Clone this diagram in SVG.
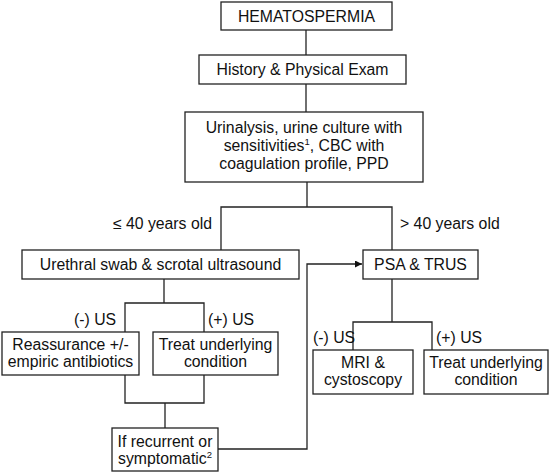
<svg xmlns="http://www.w3.org/2000/svg" width="550" height="472" viewBox="0 0 550 472">
<defs>
<style>
.box{fill:#fff;stroke:#222;stroke-width:1.3}
.ln{fill:none;stroke:#222;stroke-width:1.3}
text{font-family:"Liberation Sans",Arial,sans-serif;font-size:15.8px;fill:#111}
.c{text-anchor:middle}
.sup{font-size:9.5px}
</style>
<marker id="arr" viewBox="0 0 10 10" refX="10" refY="5" markerWidth="7" markerHeight="7" markerUnits="userSpaceOnUse" orient="auto"><path d="M0,0L10,5L0,10z" fill="#111"/></marker>
</defs>
<rect width="550" height="472" fill="#fff"/>
<g id="connectors">
<path class="ln" d="M306,30V55"/>
<path class="ln" d="M306,84V112"/>
<path class="ln" d="M307,182V207M221,250V207H392V250"/>
<path class="ln" d="M164,279V303M125,332V303H204V332"/>
<path class="ln" d="M125,375V403H204V375M165,403V428"/>
<path class="ln" d="M392,279V322M353,350V322H432V350"/>
<path class="ln" d="M218,449H307V264H362" marker-end="url(#arr)"/>
</g>
<g id="n1"><rect class="box" x="221" y="2" width="171" height="28"/><text class="c" x="306.5" y="21.5">HEMATOSPERMIA</text></g>
<g id="n2"><rect class="box" x="199" y="55" width="207" height="29"/><text class="c" x="302.5" y="75">History &amp; Physical Exam</text></g>
<g id="n3"><rect class="box" x="185" y="112" width="238" height="70"/>
<text class="c" x="304" y="133">Urinalysis, urine culture with</text>
<text class="c" x="304" y="151">sensitivities<tspan class="sup" dy="-6">1</tspan><tspan dy="6">, CBC with</tspan></text>
<text class="c" x="304" y="169">coagulation profile, PPD</text></g>
<g id="l1"><text x="212" y="229" text-anchor="end">≤ 40 years old</text></g>
<g id="l2"><text x="400" y="229">&gt; 40 years old</text></g>
<g id="n4"><rect class="box" x="22" y="250" width="277" height="29"/><text class="c" x="160.5" y="269.5">Urethral swab &amp; scrotal ultrasound</text></g>
<g id="n5"><rect class="box" x="363" y="250" width="115" height="29"/><text class="c" x="420.5" y="269.5">PSA &amp; TRUS</text></g>
<g id="l3"><text x="74" y="325">(-) US</text><text x="208" y="325">(+) US</text></g>
<g id="n6"><rect class="box" x="2" y="332" width="137" height="43"/><text class="c" x="70.5" y="350">Reassurance +/-</text><text class="c" x="70.5" y="367">empiric antibiotics</text></g>
<g id="n7"><rect class="box" x="153" y="332" width="125" height="43"/><text class="c" x="215.5" y="350">Treat underlying</text><text class="c" x="215.5" y="367">condition</text></g>
<g id="l4"><text x="313" y="343">(-) US</text><text x="436" y="343">(+) US</text></g>
<g id="n8"><rect class="box" x="313" y="350" width="100" height="44"/><text class="c" x="363" y="368">MRI &amp;</text><text class="c" x="363" y="385">cystoscopy</text></g>
<g id="n9"><rect class="box" x="424" y="350" width="124" height="44"/><text class="c" x="486" y="368">Treat underlying</text><text class="c" x="486" y="385">condition</text></g>
<g id="n10"><rect class="box" x="112" y="428" width="106" height="43"/><text class="c" x="165" y="447">If recurrent or</text><text class="c" x="165" y="464">symptomatic<tspan class="sup" dy="-6">2</tspan></text></g>
</svg>
